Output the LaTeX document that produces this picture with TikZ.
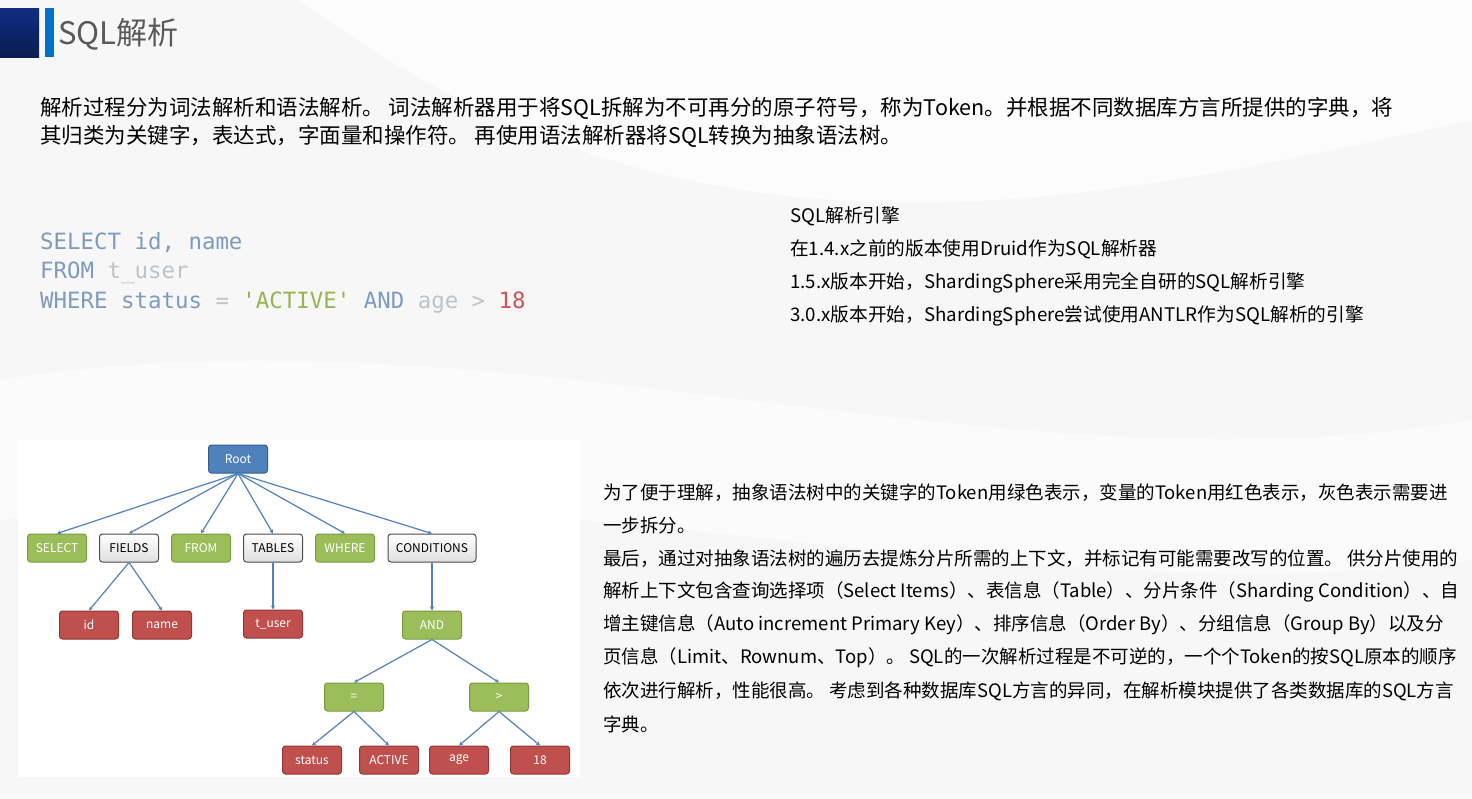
\documentclass[tikz,border=0pt]{standalone}
\usepackage{fontspec}
\setmainfont{Noto Sans CJK SC}
\newfontfamily\codefont{DejaVu Sans Mono}
\usetikzlibrary{arrows.meta,shadows}
\definecolor{kw}{RGB}{125,155,190}
\definecolor{lg}{RGB}{190,195,200}
\definecolor{strg}{RGB}{150,180,80}
\definecolor{numr}{RGB}{205,85,85}
\definecolor{edge}{RGB}{80,130,190}
\definecolor{gfill}{RGB}{155,190,90}
\definecolor{gdraw}{RGB}{120,155,65}
\definecolor{rfill}{RGB}{192,80,77}
\definecolor{rdraw}{RGB}{145,55,52}
\definecolor{bfill}{RGB}{79,129,189}
\definecolor{bdraw}{RGB}{56,93,138}
\definecolor{navyA}{RGB}{15,45,130}
\definecolor{navyB}{RGB}{10,30,80}
\definecolor{barblue}{RGB}{0,115,200}
\tikzset{
 tn/.style={rounded corners=3pt,minimum height=28pt,minimum width=59pt,font=\fontsize{12}{13}\selectfont,inner sep=2pt,line width=1pt},
 gn/.style={tn,fill=gfill,draw=gdraw,text=white},
 rn/.style={tn,fill=rfill,draw=rdraw,text=white},
 wn/.style={tn,top color=white,bottom color=gray!25,draw=black!70,text=black},
 bn/.style={tn,fill=bfill,draw=bdraw,text=white},
 ed/.style={draw=edge,line width=1.2pt,-{Stealth[length=4pt,width=4pt]}},
 body/.style={anchor=west,font=\fontsize{21.5}{22}\selectfont,text=black},
}
\begin{document}
\begin{tikzpicture}[x=1pt,y=-1pt]
\useasboundingbox (0,0) rectangle (1472,798);
\fill[gray!6] (0,0) rectangle (1472,798);
\fill[white,opacity=0.7] (300,0) .. controls (700,300) and (1100,200) .. (1472,120) -- (1472,0) -- cycle;
\fill[white,opacity=0.6] (0,380) .. controls (500,300) and (1000,500) .. (1472,420) -- (1472,560) .. controls (1000,620) and (500,450) .. (0,520) -- cycle;
% header
\shade[top color=navyA,bottom color=navyB] (0,8) rectangle (39,57);
\fill[barblue] (45,8) rectangle (54,57);
\node[anchor=west,font=\fontsize{31}{32}\selectfont,text=black!65,inner sep=0] (title) at (58,34) {SQL解析};
% paragraph
\node[body,inner sep=0] (p1) at (40,108) {解析过程分为词法解析和语法解析。 词法解析器用于将SQL拆解为不可再分的原子符号，称为Token。并根据不同数据库方言所提供的字典，将};
\node[body,inner sep=0] (p2) at (40,136) {其归类为关键字，表达式，字面量和操作符。 再使用语法解析器将SQL转换为抽象语法树。};
% code
\begin{scope}[every node/.style={anchor=west,inner sep=0,font=\codefont\fontsize{22.4}{23}\selectfont}]
\node (c1) at (40,243) {\textcolor{kw}{SELECT id, name}};
\node (c2) at (40,273) {\textcolor{kw}{FROM} \textcolor{lg}{t\_user}};
\node (c3) at (40,303) {\textcolor{kw}{WHERE status} \textcolor{lg}{=} \textcolor{strg}{'ACTIVE'} \textcolor{kw}{AND} \textcolor{lg}{age >} \textcolor{numr}{18}};
\end{scope}
% right text
\begin{scope}[every node/.style={anchor=west,inner sep=0,font=\fontsize{18.7}{19}\selectfont,text=black}]
\node (r1) at (790,216) {SQL解析引擎};
\node (r2) at (790,249) {在1.4.x之前的版本使用Druid作为SQL解析器};
\node (r3) at (790,283) {1.5.x版本开始，ShardingSphere采用完全自研的SQL解析引擎};
\node (r4) at (790,316) {3.0.x版本开始，ShardingSphere尝试使用ANTLR作为SQL解析的引擎};
\end{scope}
\begin{scope}[every node/.style={anchor=west,inner sep=0,font=\fontsize{18.5}{19}\selectfont,text=black}]
\node (b1) at (603,493) {为了便于理解，抽象语法树中的关键字的Token用绿色表示，变量的Token用红色表示，灰色表示需要进};
\node (b2) at (603,525) {一步拆分。};
\node (b3) at (603,559) {最后，通过对抽象语法树的遍历去提炼分片所需的上下文，并标记有可能需要改写的位置。 供分片使用的};
\node (b4) at (603,592) {解析上下文包含查询选择项（Select Items）、表信息（Table）、分片条件（Sharding Condition）、自};
\node (b5) at (603,625) {增主键信息（Auto increment Primary Key）、排序信息（Order By）、分组信息（Group By）以及分};
\node (b6) at (603,658) {页信息（Limit、Rownum、Top）。 SQL的一次解析过程是不可逆的，一个个Token的按SQL原本的顺序};
\node (b7) at (603,691) {依次进行解析，性能很高。 考虑到各种数据库SQL方言的异同，在解析模块提供了各类数据库的SQL方言};
\node (b8) at (603,724) {字典。};
\end{scope}
% tree
\fill[white] (18,440) rectangle (580,777);
\node[bn] (root) at (238,459) {Root};
\node[gn] (sel) at (57,548) {SELECT};
\node[wn] (fld) at (129,548) {FIELDS};
\node[gn] (frm) at (201,548) {FROM};
\node[wn] (tbl) at (273,548) {TABLES};
\node[gn] (whr) at (345,548) {WHERE};
\node[wn,minimum width=88pt] (cnd) at (432,548) {CONDITIONS};
\node[rn] (id) at (89,625) {id};
\node[rn] (nm) at (162,625) {name};
\node[rn] (tu) at (273,624) {t\_user};
\node[gn] (and) at (432,625) {AND};
\node[gn] (eq) at (354,697) {=};
\node[gn] (gt) at (499,697) {>};
\node[rn] (st) at (312,760) {status};
\node[rn] (ac) at (389,760) {ACTIVE};
\node[rn] (ag) at (459,760) {age};
\node[rn] (n18) at (540,760) {18};
\foreach \c in {sel,fld,frm,tbl,whr,cnd} \draw[ed] (root.south) -- (\c.north);
\draw[ed] (fld.south) -- (id.north);
\draw[ed] (fld.south) -- (nm.north);
\draw[ed] (tbl.south) -- (tu.north);
\draw[ed] (cnd.south) -- (and.north);
\draw[ed] (and.south) -- (eq.north);
\draw[ed] (and.south) -- (gt.north);
\draw[ed] (eq.south) -- (st.north);
\draw[ed] (eq.south) -- (ac.north);
\draw[ed] (gt.south) -- (ag.north);
\draw[ed] (gt.south) -- (n18.north);
\end{tikzpicture}
\end{document}
